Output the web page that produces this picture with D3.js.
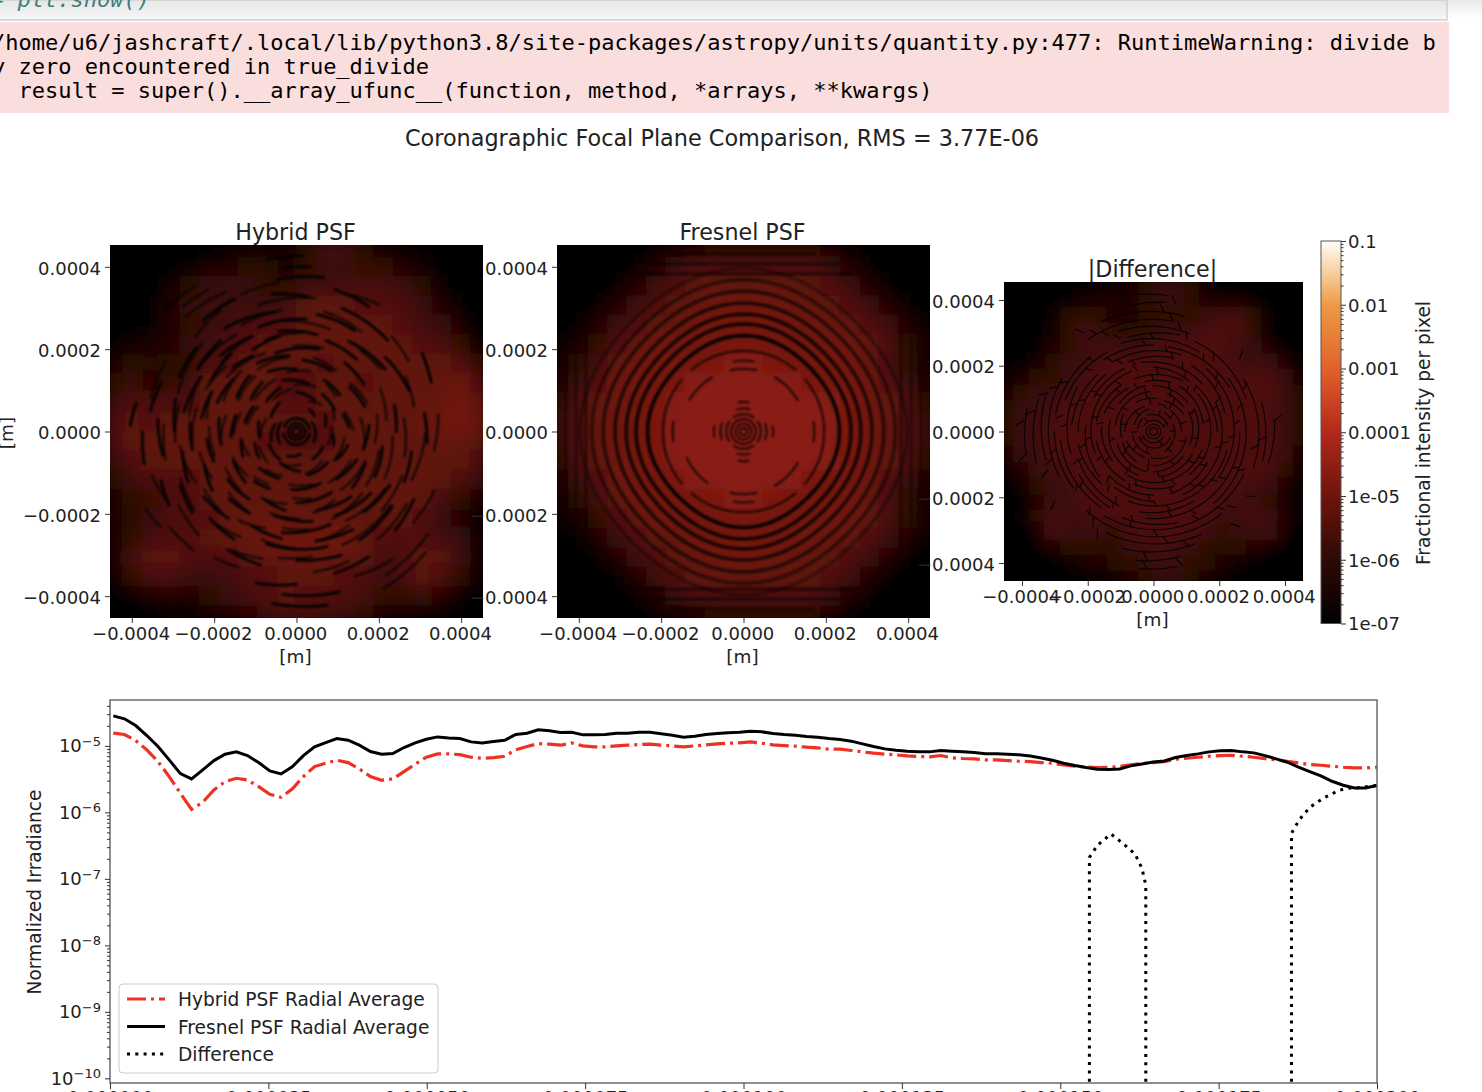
<!DOCTYPE html>
<html lang="en">
<head>
<meta charset="UTF-8">
<title>Coronagraphic Focal Plane Comparison</title>
<script src="https://cdn.jsdelivr.net/npm/d3@7"></script>
<style>
  html, body { margin: 0; padding: 0; background: #fff; overflow: hidden; }
  svg { display: block; }
  text { font-family: "DejaVu Sans", sans-serif; fill: #222; }
  .mono { font-family: "DejaVu Sans Mono", monospace; font-size: 22px; fill: #000; }
</style>
</head>
<body>
<div id="chart"></div>
<script>
// radial profile values, log10 of normalized irradiance
const fresnelLog = [
  -4.548,-4.593,-4.694,-4.844,-5.010,-5.211,-5.417,-5.497,-5.362,-5.221,-5.126,-5.090,-5.146,-5.251,-5.377,-5.422,-5.316,-5.146,-5.015,-4.950,
  -4.890,-4.915,-4.990,-5.085,-5.126,-5.116,-5.025,-4.955,-4.900,-4.865,-4.880,-4.890,-4.940,-4.955,-4.935,-4.915,-4.829,-4.809,-4.759,-4.774,
  -4.799,-4.794,-4.834,-4.834,-4.829,-4.809,-4.809,-4.794,-4.794,-4.819,-4.839,-4.869,-4.854,-4.829,-4.814,-4.804,-4.794,-4.779,-4.789,-4.814,
  -4.829,-4.839,-4.859,-4.869,-4.889,-4.904,-4.929,-4.970,-5.010,-5.045,-5.065,-5.080,-5.090,-5.090,-5.070,-5.080,-5.090,-5.100,-5.120,
  -5.120,-5.125,-5.135,-5.151,-5.181,-5.216,-5.261,-5.296,-5.326,-5.351,-5.356,-5.346,-5.301,-5.271,-5.241,-5.226,-5.176,-5.146,-5.120,-5.090,
  -5.075,-5.070,-5.090,-5.105,-5.146,-5.196,-5.246,-5.321,-5.387,-5.452,-5.532,-5.592,-5.632,-5.632,-5.597
];
const hybridLog = [
  -4.809,-4.829,-4.920,-5.060,-5.236,-5.462,-5.713,-5.954,-5.849,-5.663,-5.537,-5.487,-5.512,-5.613,-5.728,-5.773,-5.648,-5.462,-5.311,-5.261,
  -5.216,-5.251,-5.346,-5.462,-5.517,-5.497,-5.387,-5.276,-5.171,-5.121,-5.121,-5.131,-5.171,-5.186,-5.176,-5.156,-5.060,-5.010,-4.965,-4.975,
  -4.990,-4.955,-5.000,-5.015,-5.015,-5.000,-4.990,-4.980,-4.975,-4.990,-5.000,-5.015,-5.000,-4.985,-4.970,-4.960,-4.955,-4.940,-4.960,-4.985,
  -4.995,-5.005,-5.020,-5.030,-5.050,-5.050,-5.070,-5.090,-5.110,-5.125,-5.135,-5.150,-5.160,-5.165,-5.145,-5.180,-5.190,-5.195,-5.211,
  -5.211,-5.221,-5.231,-5.236,-5.251,-5.261,-5.286,-5.306,-5.316,-5.326,-5.321,-5.311,-5.286,-5.266,-5.251,-5.236,-5.201,-5.186,-5.171,-5.156,
  -5.146,-5.141,-5.156,-5.171,-5.191,-5.211,-5.231,-5.256,-5.281,-5.291,-5.306,-5.321,-5.331,-5.331,-5.321
];
const firstBin = 0.52e-6, binWidth = 1.765e-6;

// the difference only shows above the axis floor in two places
const diffRadiusA = [154.6,154.6,155.9,158.0,159.9,161.8,162.9,163.5,163.5];
const diffLogA    = [-10.3,-6.677,-6.491,-6.325,-6.466,-6.626,-6.842,-7.093,-10.3];
const diffRadiusB = [186.5,186.5,187.1,187.8,189.4,191.5,193.9,195.2,196.8,199.9];
const diffLogB    = [-10.3,-6.315,-6.215,-6.104,-5.924,-5.788,-5.673,-5.638,-5.632,-5.597];

const xTicksProfile = [0,2.5e-5,5e-5,7.5e-5,1e-4,1.25e-4,1.5e-4,1.75e-4,2e-4];
const yDecades = [-10,-9,-8,-7,-6,-5];
const legendLabels = ['Hybrid PSF Radial Average','Fresnel PSF Radial Average','Difference'];

const imageTicks = [-4e-4,-2e-4,0,2e-4,4e-4];
const colorbarTicks = [1e-7,1e-6,1e-5,1e-4,1e-3,1e-2,1e-1];
const colorbarLabels = ['1e-07','1e-06','1e-05','0.0001','0.001','0.01','0.1'];
const colorLogs = [-7,-6,-5,-4,-3,-2,-1.5,-1];
const colorHex = ['#000000','#2e0906','#6e140c','#b3281a','#e2612a','#ee9a45','#f6cf9f','#fffdf8'];

// coarse brightness of each image, one digit per cell, 0 black to 9 brightest
const hybridGrid = [
  '00000001113553100000','00000123323443321000','00013444334445543000','00024444446665554200',
  '00023445556666654410','01224455666666665530','23333556666566666653','34234666655665666675',
  '45555666655666666676','56566666666566666777','56666666554566666666','45666666666666666665',
  '34555666666666666654','23355666666666666432','23455566666666665410','13455666777776555440',
  '05665556666666456640','03554445566655456530','00122345565555334200','00000122455543210000'
];
const fresnelGrid = [
  '00000001333333100000','00000245555555420000','00002456666666542000','00024566777766654200',
  '00245667777777665420','02356777777777776532','13467777788777776431','24577778888887777542',
  '35677788888888877653','45677788888888877654','45677788888888877654','35677788888888877653',
  '24577778888887777542','13467777788777776431','02356777777777776532','00245667777777665420',
  '00024566777766654200','00002456666666542000','00000245555555420000','00000001333333100000'
];
const differenceGrid = [
  '00000001134430000000','00000122234432100000','00003332233334453000','00013543334445553000',
  '00023444445555544100','00134455555555544420','02334455555555555540','23444555555555555543',
  '34445555555555555543','34455555555555555543','34455555555555555543','24455555555555555542',
  '12445555555555555531','01344555555555554420','00244555555555544320','00354455555555445420',
  '00054443555554344500','00013333445443332000','00000223344433210000','00000001234432000000'
];

// dark fringes: ring radius in microns, then [start, end] angles in degrees
const hybridRadii = [10,20,32,46,60,76,92,108,124,140,156,172,188,202,216,230,244,258,272,286,300,316,334,354,376,400,425];
const hybridArcs = [
  [[0,360]],[[0,360]],[[10,160],[190,350]],[[150,215],[-30,30]],[[160,200],[250,280],[40,60]],
  [[120,150],[205,240],[300,330],[10,30]],[[60,90],[165,190],[245,275],[340,355]],
  [[30,55],[110,135],[195,215],[285,315]],[[75,105],[150,170],[225,250],[325,345],[5,20]],
  [[40,62],[125,145],[190,205],[265,295]],[[90,115],[165,185],[230,245],[310,335]],
  [[20,40],[60,85],[130,150],[205,225],[270,300],[345,365]],[[95,120],[170,190],[245,262],[315,335]],
  [[35,55],[75,105],[140,160],[215,235],[285,310]],[[120,135],[185,200],[255,280],[330,350]],
  [[50,72],[100,118],[155,172],[225,240],[295,320]],[[78,100],[130,150],[200,215],[262,290],[0,15]],
  [[35,60],[115,135],[175,190],[245,262],[310,330]],[[85,110],[150,170],[215,232],[280,300]],
  [[20,40],[60,80],[130,148],[190,205],[255,285],[335,350]],[[100,125],[165,180],[225,240],[300,322]],
  [[45,70],[140,155],[205,218],[270,290],[355,368]],[[85,100],[175,190],[240,255],[315,330]],
  [[60,75],[115,130],[160,172],[200,210],[285,300],[20,32]],[[80,97],[180,192],[255,270]],
  [[265,285],[85,95],[170,178]],[[262,280],[88,100]]
];
// streaks lean across the rings instead of following them exactly
const hybridTilts = [7,-5,11,-8,4,-10,6,-3,9];

// Fresnel rings: radius in microns and how dark the ring is
const fresnelRadii = [233,261,285,312,341,369,397];
const fresnelDark  = [0.95,0.85,0.8,0.7,0.6,0.5,0.35];
const fresnelInnerRadii = [9,19,30,42,56,72,152,172,196];
const fresnelInnerArcs = [
  [[0,360]],[[0,360]],[[0,360]],[[-35,35],[55,125],[145,215],[235,305]],[[-20,20],[75,105],[160,200],[255,285]],
  [[80,100],[170,190],[260,280],[-10,10]],[[78,102],[120,150],[205,235],[258,282],[300,330],[30,60]],
  [[-8,8],[82,98],[172,188],[262,278]],[[-40,40],[50,130],[140,220],[230,310]]
];
// outermost fringes run straight along each image edge
const fresnelBarOffsets = [383,407,432];
const fresnelBarHalfLengths = [260,230,170];

// |Difference| panel: thin dark lines, rings joined by short spokes
const diffRingRadii = [12,22,34,50,66,84,102,120,138,156,174,192,210,228,246,264,282,300,320,342,366,392,418];
const diffRingArcs = [
  [[0,360]],[[0,360]],[[20,150],[200,330]],[[20,110],[130,170],[200,340]],[[-60,20],[35,60],[100,160],[190,260]],[[0,50],[60,80],[110,180],[200,250],[265,300]],
  [[30,70],[85,120],[150,190],[200,240],[270,350]],[[-20,30],[40,70],[95,170],[200,260],[270,320]],[[40,90],[100,140],[165,250],[280,330],[340,390]],[[10,60],[70,100],[120,160],[175,215],[240,340]],
  [[60,110],[125,170],[190,240],[250,290],[310,400]],[[0,45],[55,90],[110,200],[225,270],[285,330]],[[45,100],[115,150],[175,220],[235,270],[295,385]],[[15,60],[75,110],[130,180],[190,225],[250,345]],
  [[70,120],[135,175],[200,245],[260,300],[325,410]],[[30,80],[90,125],[150,195],[210,240],[265,360]],[[60,110],[120,160],[185,235],[250,285],[310,395]],[[20,65],[75,105],[130,170],[180,215],[240,335]],
  [[70,110],[150,205],[230,310],[340,390]],[[80,125],[160,195],[245,295],[345,375]],[[75,115],[165,195],[255,290],[345,365]],[[85,100],[170,190],[262,282]],[[84,98],[264,280]]
];
const diffSpokes = [
  [],[],[30,120,210,300],[0,70,180,250],[40,130,220,310],[15,55,95,165,210,260,340],[55,100,140,215,260,300],[25,65,100,190,235,275,350],
  [70,110,150,235,280,320],[10,50,90,130,170,210,250,290,330],[45,85,125,165,205,245,285,325],[20,60,105,145,185,225,265,305,345],[25,65,105,145,190,230,270,310,350],[35,75,115,155,200,240,280,320,355],
  [40,80,120,160,200,240,280,325,5],[15,55,95,135,175,215,255,295,335],[50,90,130,170,215,255,295,335],[25,70,110,150,190,230,270,310,350],[75,115,155,195,235,275,315,355],[40,80,120,160,200,240,285,325],[85,125,170,215,265,310,5],[80,100,175,190,265,280],[]
];
const diffTilts = [6,-4,8,-6,3,-8,5,-3,7];

const width = 1482, height = 1092;
const svg = d3.select('#chart').append('svg').attr('width', width).attr('height', height);
const defs = svg.append('defs');

const colorScale = d3.scaleLinear().domain(colorLogs).range(colorHex).clamp(true);
const levelToLog = d => -7 + d * 0.3;
const lineGen = d3.line();

// notebook output above the figure
function drawNotebookChrome() {
  const g = defs.append('linearGradient').attr('id', 'cellShade').attr('x1', 0).attr('y1', 0).attr('x2', 0).attr('y2', 1);
  g.append('stop').attr('offset', 0).attr('stop-color', '#e6e6e6');
  g.append('stop').attr('offset', 1).attr('stop-color', '#f7f7f7');
  const s = defs.append('linearGradient').attr('id', 'edgeShade').attr('x1', 0).attr('y1', 0).attr('x2', 0).attr('y2', 1);
  s.append('stop').attr('offset', 0).attr('stop-color', '#e8e8e8');
  s.append('stop').attr('offset', 1).attr('stop-color', '#ffffff');
  svg.append('rect').attr('x', 0).attr('y', 0).attr('width', width).attr('height', 18).attr('fill', 'url(#edgeShade)');
  svg.append('rect').attr('x', -2).attr('y', 0).attr('width', 1449).attr('height', 20)
    .attr('fill', 'url(#cellShade)').attr('stroke', '#cfcfcf').attr('stroke-width', 1.5);
  svg.append('text').attr('class', 'mono').attr('x', -9).attr('y', 7)
    .style('fill', '#3f7f7f').style('font-style', 'italic').text('# plt.show()');
  svg.append('rect').attr('x', 0).attr('y', 22).attr('width', 1449).attr('height', 91).attr('fill', '#f9dedd');
  const lines = [
    '/home/u6/jashcraft/.local/lib/python3.8/site-packages/astropy/units/quantity.py:477: RuntimeWarning: divide b',
    'y zero encountered in true_divide',
    '  result = super().__array_ufunc__(function, method, *arrays, **kwargs)'
  ];
  lines.forEach((t, i) => {
    svg.append('text').attr('class', 'mono').attr('x', -8).attr('y', 50 + i * 24).attr('xml:space', 'preserve').text(t);
  });
}

function styleAxis(g, fontSize) {
  g.select('.domain').remove();
  g.selectAll('line').attr('stroke', '#333').attr('stroke-width', 1);
  g.selectAll('text').style('font-family', '"DejaVu Sans", sans-serif').style('font-size', fontSize + 'px').attr('fill', '#222');
}

function arcPoints(xs, ys, r, a0, a1, squish, tilt) {
  const pts = [];
  const n = Math.max(2, Math.ceil(Math.abs(a1 - a0) / 3));
  for (let i = 0; i <= n; i++) {
    const a = (a0 + (a1 - a0) * i / n) * Math.PI / 180;
    const s = Math.sin(2 * a);
    const rr = (r + tilt * (i / n - 0.5)) * 1e-6 * (1 - squish * s * s);
    pts.push([xs(rr * Math.cos(a)), ys(rr * Math.sin(a))]);
  }
  return pts;
}

function drawImagePanel(cfg) {
  const x = d3.scaleLinear().domain([-cfg.extent, cfg.extent]).range([cfg.left, cfg.right]);
  const y = d3.scaleLinear().domain([-cfg.extent, cfg.extent]).range([cfg.bottom, cfg.top]);
  const clipId = 'clip-' + cfg.key;
  defs.append('clipPath').attr('id', clipId).append('rect')
    .attr('x', cfg.left).attr('y', cfg.top).attr('width', cfg.right - cfg.left).attr('height', cfg.bottom - cfg.top);
  const blurId = 'blur-' + cfg.key;
  defs.append('filter').attr('id', blurId).attr('x', '-10%').attr('y', '-10%').attr('width', '120%').attr('height', '120%')
    .append('feGaussianBlur').attr('stdDeviation', cfg.blur);
  const soft = 'soft-' + cfg.key;
  defs.append('filter').attr('id', soft).attr('x', '-5%').attr('y', '-5%').attr('width', '110%').attr('height', '110%')
    .append('feGaussianBlur').attr('stdDeviation', cfg.lineBlur);

  const panel = svg.append('g').attr('clip-path', `url(#${clipId})`);
  panel.append('rect').attr('x', cfg.left).attr('y', cfg.top).attr('width', cfg.right - cfg.left)
    .attr('height', cfg.bottom - cfg.top).attr('fill', '#000');

  // brightness grid, laid slightly past the image so the blur keeps the edges lit
  const n = cfg.grid.length;
  const cell = d3.scaleBand().domain(d3.range(n)).range([-cfg.extent * 1.04, cfg.extent * 1.04]);
  const cells = cfg.grid.flatMap((row, j) => row.split('').map((c, i) => ({ i, j, v: +c })));
  panel.append('g').attr('filter', `url(#${blurId})`).selectAll('rect').data(cells).join('rect')
    .attr('x', d => x(cell(d.i)) - 0.5)
    .attr('y', d => y(cell(n - 1 - d.j) + cell.bandwidth()) - 0.5)
    .attr('width', x(cell.bandwidth()) - x(0) + 1)
    .attr('height', y(0) - y(cell.bandwidth()) + 1)
    .attr('fill', d => colorScale(levelToLog(d.v)));

  // dark fringes on top
  const fringes = panel.append('g').attr('filter', `url(#${soft})`).attr('fill', 'none').attr('stroke', '#000').attr('stroke-linecap', 'round');
  (cfg.rings || []).forEach((r, i) => {
    fringes.append('path').attr('d', lineGen(arcPoints(x, y, r, 0, 360, cfg.squish, 0)))
      .attr('stroke-width', cfg.ringWidth).attr('opacity', cfg.ringDark[i]);
  });
  const tilts = cfg.tilts || [0];
  let arcIndex = 0;
  (cfg.arcRadii || []).forEach((r, i) => {
    cfg.arcs[i].forEach(a => {
      const tilt = r > 40 ? tilts[arcIndex++ % tilts.length] : 0;
      fringes.append('path').attr('d', lineGen(arcPoints(x, y, r, a[0], a[1], 0, tilt)))
        .attr('stroke-width', cfg.arcWidth).attr('opacity', cfg.arcOpacity);
      // a fainter copy between rings fills in the mottling
      if (cfg.echo && r > 60) {
        fringes.append('path')
          .attr('d', lineGen(arcPoints(x, y, r + cfg.echo.dr, a[0] + cfg.echo.turn, a[1] + cfg.echo.turn, 0, -tilt)))
          .attr('stroke-width', cfg.arcWidth * 0.8).attr('opacity', cfg.echo.opacity);
      }
    });
  });
  (cfg.spokes || []).forEach((angles, i) => {
    angles.forEach(deg => {
      const a = deg * Math.PI / 180, r0 = cfg.arcRadii[i] * 1e-6, r1 = cfg.arcRadii[i + 1] * 1e-6;
      fringes.append('path').attr('d', lineGen([
        [x(r0 * Math.cos(a)), y(r0 * Math.sin(a))],
        [x(r1 * Math.cos(a + 0.04)), y(r1 * Math.sin(a + 0.04))]
      ])).attr('stroke-width', cfg.arcWidth).attr('opacity', cfg.arcOpacity);
    });
  });
  (cfg.barOffsets || []).forEach((off, i) => {
    const o = off * 1e-6, h = cfg.barHalf[i] * 1e-6;
    [1, -1].forEach(sign => {
      fringes.append('path').attr('d', lineGen([[x(-h), y(sign * o)], [x(h), y(sign * o)]]))
        .attr('stroke-width', 3).attr('opacity', 0.5);
      fringes.append('path').attr('d', lineGen([[x(sign * o), y(-h)], [x(sign * o), y(h)]]))
        .attr('stroke-width', 3).attr('opacity', 0.4);
    });
  });

  const fmt = d3.format('.4f');
  svg.append('g').attr('transform', `translate(0,${cfg.bottom})`)
    .call(d3.axisBottom(x).tickValues(imageTicks).tickFormat(fmt).tickSize(5).tickPadding(4))
    .call(g => styleAxis(g, 18))
    .call(g => g.selectAll('text').attr('dx', -1.2));
  svg.append('g').attr('transform', `translate(${cfg.left},0)`)
    .call(d3.axisLeft(y).tickValues(imageTicks).tickFormat(fmt).tickSize(5).tickPadding(4))
    .call(g => styleAxis(g, 18))
    .call(g => g.selectAll('text').attr('dy', '0.4em'));

  svg.append('text').attr('x', (cfg.left + cfg.right) / 2 - 1).attr('y', cfg.top - 5).attr('text-anchor', 'middle')
    .style('font-size', '22.2px').text(cfg.title);
  svg.append('text').attr('x', (cfg.left + cfg.right) / 2 - 1).attr('y', cfg.bottom + 45).attr('text-anchor', 'middle')
    .style('font-size', '18.4px').text('[m]');
}

function drawColorbar() {
  const top = 241, bottom = 623.5, left = 1321, right = 1341;
  const cb = d3.scaleLog().domain([1e-7, 1e-1]).range([bottom, top]);
  const grad = defs.append('linearGradient').attr('id', 'cbar').attr('x1', 0).attr('y1', 1).attr('x2', 0).attr('y2', 0);
  colorLogs.forEach((l, i) => {
    grad.append('stop').attr('offset', (l + 7) / 6).attr('stop-color', colorHex[i]);
  });
  svg.append('rect').attr('x', left).attr('y', top).attr('width', right - left).attr('height', bottom - top)
    .attr('fill', 'url(#cbar)').attr('stroke', '#555').attr('stroke-width', 1);
  const minor = [];
  colorbarTicks.slice(0, -1).forEach(t => d3.range(2, 10).forEach(m => minor.push(t * m)));
  svg.append('g').attr('transform', `translate(${right},0)`)
    .call(d3.axisRight(cb).tickValues(minor).tickSize(2.5).tickFormat(''))
    .call(g => styleAxis(g, 18));
  svg.append('g').attr('transform', `translate(${right},0)`)
    .call(d3.axisRight(cb).tickValues(colorbarTicks).tickSize(5).tickPadding(2)
      .tickFormat((d, i) => colorbarLabels[i]))
    .call(g => styleAxis(g, 18))
    .call(g => g.selectAll('text').attr('dy', '0.36em'));
  svg.append('text').attr('transform', 'translate(1430,433) rotate(-90)').attr('text-anchor', 'middle')
    .style('font-size', '18.6px').text('Fractional intensity per pixel');
}

function drawProfile() {
  const left = 110, right = 1377, top = 700, bottom = 1083;
  const x = d3.scaleLinear().domain([0, 2e-4]).range([left, right]);
  const y = d3.scaleLog().domain([Math.pow(10, -10.07), Math.pow(10, -4.31)]).range([bottom, top]);
  const radii = fresnelLog.map((_, i) => firstBin + i * binWidth);
  defs.append('clipPath').attr('id', 'clip-profile').append('rect')
    .attr('x', left).attr('y', top).attr('width', right - left).attr('height', bottom - top);

  const line = d3.line().x(d => x(d[0])).y(d => y(Math.pow(10, d[1])));
  const plot = svg.append('g').attr('clip-path', 'url(#clip-profile)').attr('fill', 'none');
  plot.append('path').attr('d', line(d3.zip(radii, hybridLog)))
    .attr('stroke', '#ee3124').attr('stroke-width', 3.2).attr('stroke-dasharray', '19 5 3 5');
  plot.append('path').attr('d', line(d3.zip(radii, fresnelLog)))
    .attr('stroke', '#000').attr('stroke-width', 3);
  [[diffRadiusA, diffLogA], [diffRadiusB, diffLogB]].forEach(pair => {
    plot.append('path').attr('d', line(d3.zip(pair[0].map(r => r * 1e-6), pair[1])))
      .attr('stroke', '#000').attr('stroke-width', 3).attr('stroke-dasharray', '3 5.3');
  });

  svg.append('rect').attr('x', left).attr('y', top).attr('width', right - left).attr('height', bottom - top)
    .attr('fill', 'none').attr('stroke', '#555').attr('stroke-width', 1.3);

  svg.append('g').attr('transform', `translate(0,${bottom})`)
    .call(d3.axisBottom(x).tickValues(xTicksProfile).tickFormat(d3.format('.6f')).tickSize(6).tickPadding(2.5))
    .call(g => styleAxis(g, 18));

  const minor = [];
  yDecades.forEach(e => d3.range(2, 10).forEach(m => {
    const v = m * Math.pow(10, e);
    if (y(v) > top) minor.push(v);
  }));
  svg.append('g').attr('transform', `translate(${left},0)`)
    .call(d3.axisLeft(y).tickValues(minor).tickSize(3).tickFormat(''))
    .call(g => styleAxis(g, 18));
  const major = svg.append('g').attr('transform', `translate(${left},0)`)
    .call(d3.axisLeft(y).tickValues(yDecades.map(e => Math.pow(10, e))).tickSize(5).tickPadding(5).tickFormat(''))
    .call(g => styleAxis(g, 18));
  major.selectAll('.tick').append('text').attr('x', -9).attr('dy', '0.6em').attr('text-anchor', 'end')
    .each(function (d) {
      const t = d3.select(this);
      t.append('tspan').style('font-size', '18px').text('10');
      t.append('tspan').attr('dy', '-0.5em').style('font-size', '13px')
        .text('\u2212' + Math.round(-Math.log10(d)));
    });

  svg.append('text').attr('transform', 'translate(40.5,892) rotate(-90)').attr('text-anchor', 'middle')
    .style('font-size', '18.6px').text('Normalized Irradiance');

  // legend
  svg.append('rect').attr('x', 119).attr('y', 984).attr('width', 319).attr('height', 89).attr('rx', 4)
    .attr('fill', '#fff').attr('fill-opacity', 0.8).attr('stroke', '#ccc').attr('stroke-width', 1);
  const rows = [
    { y: 999, stroke: '#ee3124', dash: '19 5 3 5' },
    { y: 1026.5, stroke: '#000', dash: null },
    { y: 1054, stroke: '#000', dash: '3 5.3' }
  ];
  rows.forEach((row, i) => {
    svg.append('line').attr('x1', 127).attr('x2', 165).attr('y1', row.y).attr('y2', row.y)
      .attr('stroke', row.stroke).attr('stroke-width', 3).attr('stroke-dasharray', row.dash);
    svg.append('text').attr('x', 178).attr('y', row.y + 7).style('font-size', '18.6px').text(legendLabels[i]);
  });
}

drawNotebookChrome();
svg.append('text').attr('x', 722).attr('y', 145.5).attr('text-anchor', 'middle').style('font-size', '22.35px')
  .text('Coronagraphic Focal Plane Comparison, RMS = 3.77E-06');

drawImagePanel({
  key: 'hybrid', title: 'Hybrid PSF', left: 110, right: 483, top: 245, bottom: 618, extent: 4.53e-4,
  grid: hybridGrid, blur: 12, lineBlur: 0.9, arcRadii: hybridRadii, arcs: hybridArcs, arcWidth: 2.8, arcOpacity: 0.95,
  tilts: hybridTilts, echo: { dr: 8, turn: 37, opacity: 0.75 }
});
drawImagePanel({
  key: 'fresnel', title: 'Fresnel PSF', left: 557, right: 930, top: 245, bottom: 618, extent: 4.53e-4,
  grid: fresnelGrid, blur: 12, lineBlur: 1.3, rings: fresnelRadii, ringDark: fresnelDark, ringWidth: 3.6, squish: 0.04,
  arcRadii: fresnelInnerRadii, arcs: fresnelInnerArcs, arcWidth: 2.2, arcOpacity: 0.75,
  barOffsets: fresnelBarOffsets, barHalf: fresnelBarHalfLengths
});
drawImagePanel({
  key: 'difference', title: '|Difference|', left: 1004, right: 1303, top: 282, bottom: 581, extent: 4.547e-4,
  grid: differenceGrid, blur: 10, lineBlur: 0.4, arcRadii: diffRingRadii, arcs: diffRingArcs, spokes: diffSpokes, arcWidth: 1.2, arcOpacity: 0.85,
  tilts: diffTilts
});
svg.append('text').attr('transform', 'translate(13,433) rotate(-90)').attr('text-anchor', 'middle')
  .style('font-size', '18.4px').text('[m]');

drawColorbar();
drawProfile();
</script>
</body>
</html>
